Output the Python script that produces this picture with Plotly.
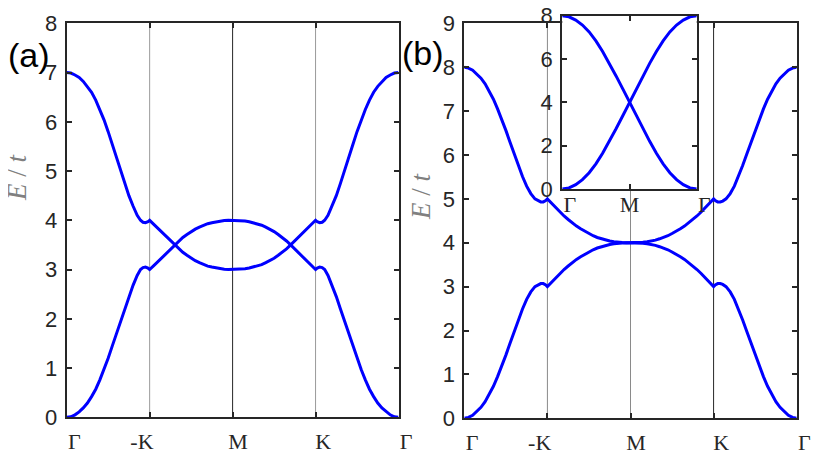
import plotly.graph_objects as go

# path coordinate along Gamma -> -K -> M -> K -> Gamma
k_path = [0, 0.0125, 0.025, 0.0375, 0.05, 0.0625, 0.075, 0.0875, 0.1, 0.1125,
          0.125, 0.1375, 0.15, 0.1625, 0.175, 0.1875, 0.2, 0.2125, 0.2225, 0.23,
          0.2375, 0.245, 0.25, 0.2625, 0.275, 0.2875, 0.3, 0.3125, 0.325, 0.3375,
          0.35, 0.3625, 0.375, 0.3875, 0.4, 0.4125, 0.425, 0.4375, 0.45, 0.4625,
          0.475, 0.4875, 0.5, 0.5125, 0.525, 0.5375, 0.55, 0.5625, 0.575, 0.5875,
          0.6, 0.6125, 0.625, 0.6375, 0.65, 0.6625, 0.675, 0.6875, 0.7, 0.7125,
          0.725, 0.7375, 0.75, 0.755, 0.7625, 0.77, 0.7775, 0.7875, 0.8, 0.8125,
          0.825, 0.8375, 0.85, 0.8625, 0.875, 0.8875, 0.9, 0.9125, 0.925, 0.9375,
          0.95, 0.9625, 0.975, 0.9875, 1.0]

k_ticks = [0, 0.25, 0.5, 0.75, 1.0]
k_labels = ["\u2002\u2009Γ", "-K\u2002\u2009", "\u2002M", "\u2002\u2009K", "\u2002\u2009Γ"]

# panel (a)
band_a_upper = [7.00, 6.99, 6.95, 6.90, 6.82, 6.72, 6.60, 6.44, 6.25, 6.04,
                5.80, 5.54, 5.27, 5.00, 4.75, 4.50, 4.29, 4.10, 4.00, 3.96,
                3.95, 3.97, 4.00, 3.92, 3.84, 3.75, 3.66, 3.58, 3.50, 3.42,
                3.35, 3.29, 3.23, 3.18, 3.14, 3.10, 3.07, 3.05, 3.03, 3.015,
                3.005, 3.00, 3.00, 3.00, 3.005, 3.015, 3.03, 3.05, 3.07, 3.10,
                3.14, 3.18, 3.23, 3.29, 3.35, 3.42, 3.50, 3.58, 3.66, 3.75,
                3.84, 3.92, 4.00, 3.97, 3.95, 3.96, 4.00, 4.10, 4.29, 4.50,
                4.75, 5.00, 5.27, 5.54, 5.80, 6.04, 6.25, 6.44, 6.60, 6.72,
                6.82, 6.90, 6.95, 6.99, 7.00]
band_a_lower = [0.00, 0.01, 0.05, 0.11, 0.19, 0.29, 0.42, 0.57, 0.76, 0.97,
                1.20, 1.45, 1.70, 1.95, 2.20, 2.45, 2.68, 2.88, 3.00, 3.04,
                3.05, 3.03, 3.00, 3.08, 3.16, 3.25, 3.34, 3.42, 3.50, 3.58,
                3.65, 3.71, 3.77, 3.82, 3.86, 3.90, 3.93, 3.95, 3.97, 3.985,
                3.995, 4.00, 4.00, 4.00, 3.995, 3.985, 3.97, 3.95, 3.93, 3.90,
                3.86, 3.82, 3.77, 3.71, 3.65, 3.58, 3.50, 3.42, 3.34, 3.25,
                3.16, 3.08, 3.00, 3.03, 3.05, 3.04, 3.00, 2.88, 2.68, 2.45,
                2.20, 1.95, 1.70, 1.45, 1.20, 0.97, 0.76, 0.57, 0.42, 0.29,
                0.19, 0.11, 0.05, 0.01, 0.00]

# panel (b)
band_b_upper = [8.00, 7.98, 7.93, 7.85, 7.75, 7.62, 7.46, 7.27, 7.05, 6.82,
                6.56, 6.29, 6.02, 5.76, 5.51, 5.29, 5.12, 5.00, 4.95, 4.93,
                4.93, 4.96, 5.00, 4.90, 4.80, 4.70, 4.61, 4.53, 4.45, 4.38,
                4.32, 4.26, 4.21, 4.16, 4.12, 4.09, 4.06, 4.04, 4.025, 4.01,
                4.005, 4.00, 4.00, 4.00, 4.005, 4.01, 4.025, 4.04, 4.06, 4.09,
                4.12, 4.16, 4.21, 4.26, 4.32, 4.38, 4.45, 4.53, 4.61, 4.70,
                4.80, 4.90, 5.00, 4.96, 4.93, 4.93, 4.95, 5.00, 5.12, 5.29,
                5.51, 5.76, 6.02, 6.29, 6.56, 6.82, 7.05, 7.27, 7.46, 7.62,
                7.75, 7.85, 7.93, 7.98, 8.00]
band_b_lower = [0.00, 0.02, 0.07, 0.15, 0.25, 0.38, 0.54, 0.73, 0.95, 1.18,
                1.44, 1.71, 1.98, 2.24, 2.49, 2.71, 2.88, 3.00, 3.05, 3.07,
                3.07, 3.04, 3.00, 3.10, 3.20, 3.30, 3.39, 3.47, 3.55, 3.62,
                3.68, 3.74, 3.79, 3.84, 3.88, 3.91, 3.94, 3.96, 3.975, 3.99,
                3.995, 4.00, 4.00, 4.00, 3.995, 3.99, 3.975, 3.96, 3.94, 3.91,
                3.88, 3.84, 3.79, 3.74, 3.68, 3.62, 3.55, 3.47, 3.39, 3.30,
                3.20, 3.10, 3.00, 3.04, 3.07, 3.07, 3.05, 3.00, 2.88, 2.71,
                2.49, 2.24, 1.98, 1.71, 1.44, 1.18, 0.95, 0.73, 0.54, 0.38,
                0.25, 0.15, 0.07, 0.02, 0.00]

# inset of (b): Gamma -> M -> Gamma
k_inset = [0, 0.05, 0.1, 0.15, 0.2, 0.25, 0.3, 0.35, 0.4, 0.45, 0.5,
           0.55, 0.6, 0.65, 0.7, 0.75, 0.8, 0.85, 0.9, 0.95, 1.0]
inset_down = [8.00, 7.95, 7.80, 7.57, 7.25, 6.84, 6.35, 5.80, 5.22, 4.62, 4.00,
              3.38, 2.78, 2.20, 1.65, 1.16, 0.75, 0.43, 0.20, 0.05, 0.00]
inset_up = [0.00, 0.05, 0.20, 0.43, 0.75, 1.16, 1.65, 2.20, 2.78, 3.38, 4.00,
            4.62, 5.22, 5.80, 6.35, 6.84, 7.25, 7.57, 7.80, 7.95, 8.00]
inset_ticks = [0, 0.5, 1.0]
inset_labels = ["\u2002\u2009Γ", "M", "\u2002\u2009Γ"]

BLUE = "#0000ff"
AXC = "#262626"
SANS = "Liberation Sans"
SERIF = "Liberation Serif"

fig = go.Figure()
for xa, ya, bands in [("x", "y", [band_a_upper, band_a_lower]),
                      ("x2", "y2", [band_b_upper, band_b_lower])]:
    for b in bands:
        fig.add_trace(go.Scatter(x=k_path, y=b, mode="lines", xaxis=xa, yaxis=ya,
                                 line=dict(color=BLUE, width=3), showlegend=False,
                                 hoverinfo="skip"))
for b in [inset_down, inset_up]:
    fig.add_trace(go.Scatter(x=k_inset, y=b, mode="lines", xaxis="x3", yaxis="y3",
                             line=dict(color=BLUE, width=3), showlegend=False,
                             hoverinfo="skip"))


def xstyle(domain, anchor, tickvals, ticktext, standoff):
    return dict(domain=domain, anchor=anchor, range=[0, 1], tickvals=tickvals,
                ticktext=ticktext, showline=True, mirror="ticks", linecolor=AXC,
                linewidth=2, ticks="inside", ticklen=5, tickwidth=1.5, tickcolor=AXC,
                showgrid=False, zeroline=False, ticklabelstandoff=standoff,
                automargin=False, ticklabeloverflow="allow",
                tickfont=dict(family=SERIF, size=22, color=AXC))


def ystyle(domain, anchor, rng, dtick):
    return dict(domain=domain, anchor=anchor, range=rng, dtick=dtick,
                showline=True, mirror="ticks", linecolor=AXC, linewidth=2,
                ticks="inside", ticklen=5, tickwidth=1.5, tickcolor=AXC,
                showgrid=False, zeroline=False, ticklabelstandoff=3,
                automargin=False, ticklabeloverflow="allow",
                tickfont=dict(family=SANS, size=22, color=AXC))


# the page has an 8px body margin, so domains are set 8px up/left
fig.update_layout(
    width=830, height=465,
    margin=dict(l=0, r=0, t=0, b=0, autoexpand=False),
    paper_bgcolor="white", plot_bgcolor="white",
    xaxis=xstyle([0.0707, 0.4705], "y", k_ticks, k_labels, 3),
    yaxis=ystyle([0.1198, 0.9671], "x", [0, 8], 1),
    xaxis2=xstyle([0.5498, 0.9502], "y2", k_ticks, k_labels, 3),
    yaxis2=ystyle([0.1176, 0.9671], "x2", [0, 9], 1),
    xaxis3=xstyle([0.6678, 0.8298], "y3", inset_ticks, inset_labels, -5),
    yaxis3=ystyle([0.6108, 0.9834], "x3", [0, 8], 2),
)

# vertical lines at the high-symmetry points
line_sets = [("x", "y", k_ticks[1:4], ["#9a9a9a", "#262626", "#9a9a9a"]),
             ("x2", "y2", k_ticks[1:4], ["#8a8a8a", "#8a8a8a", "#262626"]),
             ("x3", "y3", inset_ticks[1:2], ["#262626"])]
for xr, yr, ticks, cols in line_sets:
    for kx, c in zip(ticks, cols):
        fig.add_shape(type="line", xref=xr, yref=yr + " domain", x0=kx, x1=kx,
                      y0=0, y1=1, line=dict(color=c, width=1), layer="below")

# panel labels and axis titles
for txt, x, y in [("(a)", 0.0253, 0.8989), ("(b)", 0.5, 0.9022)]:
    fig.add_annotation(text=txt, xref="paper", yref="paper", x=x, y=y,
                       xanchor="center", yanchor="middle", showarrow=False,
                       font=dict(family=SANS, size=34, color="black"))
for x, y in [(0.0108, 0.6366), (0.4976, 0.5957)]:
    fig.add_annotation(text="<i>E</i> / <i>t</i>", xref="paper", yref="paper", x=x, y=y,
                       xanchor="center", yanchor="middle", textangle=-90,
                       showarrow=False,
                       font=dict(family=SERIF, size=27, color="#808080"))

fig.write_html("out.html")
